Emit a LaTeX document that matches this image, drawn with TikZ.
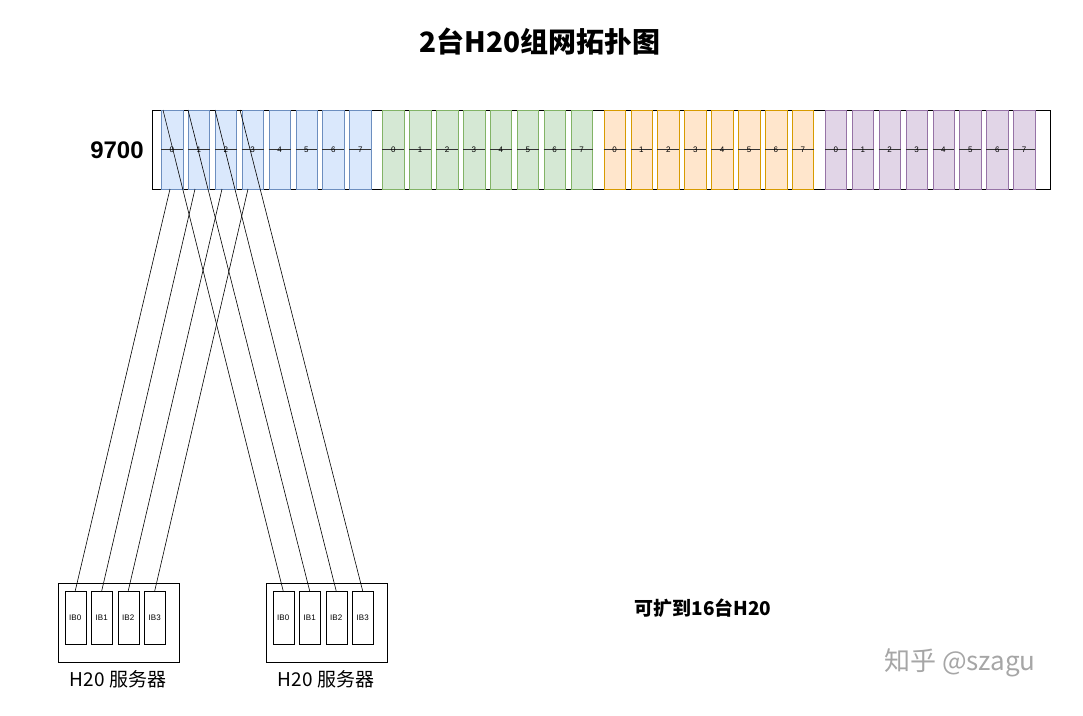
\documentclass[tikz,border=0pt]{standalone}
\usepackage{fontspec}
\setmainfont{Liberation Sans}
\newfontfamily\cjk{Noto Sans CJK SC}
\begin{document}
\begin{tikzpicture}[x=1pt,y=-1pt,
  port/.style={draw, minimum width=21.5pt, minimum height=79pt, inner sep=0pt, anchor=north west},
  ib/.style={draw, minimum width=21pt, minimum height=53pt, inner sep=0pt, anchor=north west, font=\fontsize{8}{9}\selectfont},
  srv/.style={draw, minimum width=121pt, minimum height=79pt, inner sep=0pt, anchor=north west},
  lk/.style={draw=black, line width=0.6pt}]
\useasboundingbox (0,0) rectangle (1083,715);
\node[font=\cjk\bfseries\fontsize{28}{32}\selectfont] (title) at (540,42) {2台H20组网拓扑图};
\node[font=\bfseries\fontsize{24}{28}\selectfont] (lbl) at (117,150) {9700};
\node[draw, minimum width=898pt, minimum height=79pt, inner sep=0pt, anchor=north west] (sw) at (152,110) {};
\foreach \g/\fc/\dc in {0/dae8fc/6c8ebf,1/d5e8d4/82b366,2/ffe6cc/d79b00,3/e1d5e7/9673a6}{
  \definecolor{fc\g}{HTML}{\fc}\definecolor{dc\g}{HTML}{\dc}
  \foreach \i in {0,...,7}{
    \pgfmathsetmacro\xx{161+\g*221.3+\i*26.9}
    \node[port, fill=fc\g, draw=dc\g] (p\g\i) at (\xx,110) {};
    \draw[black!80, line width=0.5pt] (p\g\i.west) -- (p\g\i.east);
    \node[font=\fontsize{8}{9}\selectfont, inner sep=0.5pt] at (p\g\i.center) {\i};
  }
}
\foreach \s/\x in {a/58,b/266}{
  \node[srv] (s\s) at (\x,583) {};
  \foreach \k in {0,...,3}{
    \pgfmathsetmacro\xx{\x+6.5+\k*26.5}
    \node[ib] (\s\k) at (\xx,591) {IB\k};
  }
  \node[font=\cjk\fontsize{19}{22}\selectfont, anchor=north] at (\x+60,667) {H20 服务器};
}
\foreach \k/\bx/\tx in {0/170/163,1/195/188,2/222/215,3/248/240}{
  \coordinate (bot\k) at (\bx,189);
  \coordinate (top\k) at (\tx,110);
  \draw[lk] (a\k.north) -- (bot\k);
  \draw[lk] (top\k) -- (b\k.north);
}
\node[font=\cjk\bfseries\fontsize{19}{22}\selectfont] (ext) at (703,608) {可扩到16台H20};
\node[font=\cjk\fontsize{26}{30}\selectfont, text=black!35] (wm) at (960,663) {知乎 @szagu};
\end{tikzpicture}
\end{document}
